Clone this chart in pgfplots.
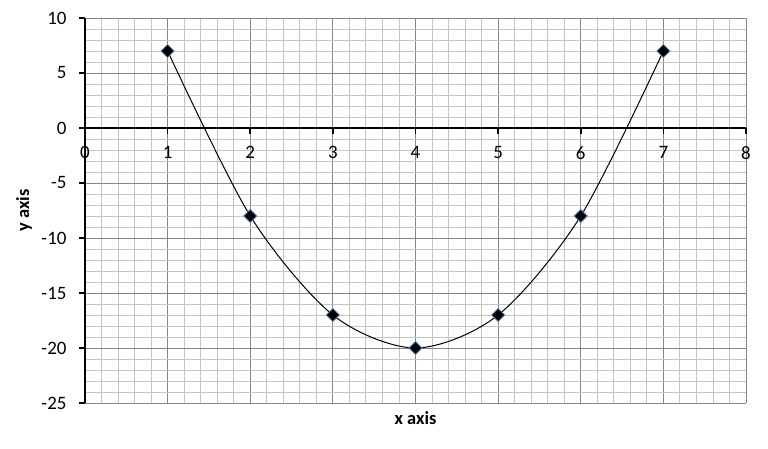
\documentclass[border=0pt]{standalone}
\usepackage{pgfplots}
\pgfplotsset{compat=1.18}
\usepackage{fontspec}
\setmainfont{Carlito}
\definecolor{majgrid}{RGB}{134,134,134}
\definecolor{mingrid}{RGB}{196,196,196}
\definecolor{markedge}{RGB}{79,129,189}
\begin{document}
\begin{tikzpicture}[x=1bp,y=1bp]
\useasboundingbox (0,0) rectangle (768,449);
\begin{axis}[
  at={(85bp,46bp)}, anchor=south west,
  scale only axis, width=661bp, height=385bp,
  xmin=0, xmax=8, ymin=-25, ymax=10,
  axis x line=middle, axis y line=left,
  axis line style={-, black, line width=1.6bp},
  hide obscured x ticks=false, hide obscured y ticks=false,
  xtick={0,1,...,8}, ytick={-25,-20,...,10},
  minor x tick num=4, minor y tick num=4,
  grid=both,
  major grid style={majgrid, line width=0.9bp},
  minor grid style={mingrid, line width=0.9bp},
  tick align=outside,
  major tick length=6bp, minor tick length=0pt,
  tick style={black, line width=1.6bp},
  /pgf/number format/assume math mode=true,
  tick label style={font=\fontsize{19}{21}\selectfont},
  xticklabel style={yshift=-9bp},
  yticklabel style={xshift=-9bp},
  xlabel={\textbf{x axis}}, ylabel={\textbf{y axis}},
  xlabel style={at={(axis description cs:0.5,0)}, anchor=north, yshift=-5bp, font=\fontsize{18.5}{20}\selectfont},
  ylabel style={at={(axis description cs:-0.0923,0.5)}, anchor=center, font=\fontsize{18.5}{20}\selectfont},
  clip=false,
]
\addplot[black, line width=1bp, smooth, mark=square*,
  mark size=4.6bp, mark options={rotate=45, fill=black, draw=markedge, line width=0.8bp}]
  coordinates {(1,7) (2,-8) (3,-17) (4,-20) (5,-17) (6,-8) (7,7)};
\end{axis}
\end{tikzpicture}
\end{document}
